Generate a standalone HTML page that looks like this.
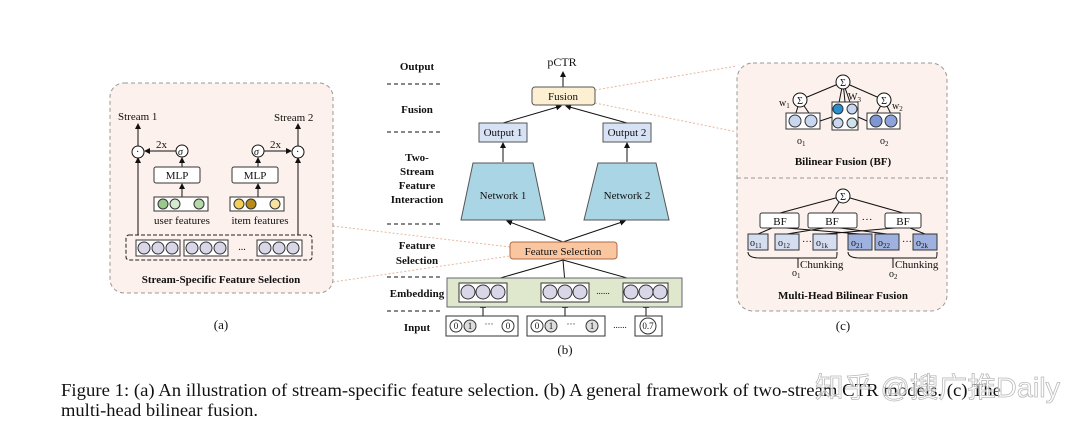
<!DOCTYPE html>
<html><head><meta charset="utf-8"><style>
body{margin:0;background:#fff;width:1088px;height:432px;overflow:hidden}
svg{display:block}
text{font-family:"Liberation Serif",serif;fill:#111}
.b{font-weight:bold}
</style></head><body>
<svg width="1088" height="432" viewBox="0 0 1088 432">
<defs><marker id="ar" markerWidth="6" markerHeight="6" refX="5" refY="3" orient="auto"><path d="M0,0 L6,3 L0,6z" fill="#111"/></marker></defs>
<g stroke="#e8b89c" stroke-width="1" stroke-dasharray="2,2" fill="none">
<line x1="333" y1="226" x2="510" y2="247"/>
<line x1="333" y1="282" x2="510" y2="256"/>
<line x1="595" y1="90" x2="737" y2="66"/>
<line x1="595" y1="103" x2="737" y2="132"/>
</g>
<rect x="110" y="83" width="223" height="210" rx="14" fill="#fcf1ec" stroke="#999" stroke-dasharray="4,3"/>
<text x="118" y="120" font-size="11">Stream 1</text>
<text x="274" y="121" font-size="11">Stream 2</text>
<g stroke="#111" fill="none" stroke-width="1">
<line x1="138" y1="235" x2="138" y2="158" marker-end="url(#ar)"/>
<line x1="138" y1="146" x2="138" y2="124" marker-end="url(#ar)"/>
<line x1="298" y1="235" x2="298" y2="158" marker-end="url(#ar)"/>
<line x1="298" y1="146" x2="298" y2="124" marker-end="url(#ar)"/>
<line x1="176" y1="151" x2="145" y2="151" marker-end="url(#ar)"/>
<line x1="264" y1="151" x2="291" y2="151" marker-end="url(#ar)"/>
<line x1="182" y1="167" x2="182" y2="158" marker-end="url(#ar)"/>
<line x1="258" y1="167" x2="258" y2="158" marker-end="url(#ar)"/>
<line x1="182" y1="197" x2="182" y2="184" marker-end="url(#ar)"/>
<line x1="258" y1="197" x2="258" y2="184" marker-end="url(#ar)"/>
</g>
<g stroke="#111" fill="#fff"><circle cx="138" cy="152" r="6"/><circle cx="298" cy="152" r="6"/><circle cx="182" cy="151" r="6"/><circle cx="258" cy="151" r="6"/></g>
<text x="136" y="155" font-size="10">·</text><text x="296" y="155" font-size="10">·</text>
<text x="178" y="155" font-size="10" font-style="italic">σ</text><text x="254" y="155" font-size="10" font-style="italic">σ</text>
<text x="156" y="148" font-size="11">2x</text><text x="270" y="148" font-size="11">2x</text>
<rect x="154" y="167" width="46" height="16" rx="2" fill="#fff" stroke="#333"/><text x="177" y="179" font-size="11" text-anchor="middle">MLP</text>
<rect x="232" y="167" width="46" height="16" rx="2" fill="#fff" stroke="#333"/><text x="255" y="179" font-size="11" text-anchor="middle">MLP</text>
<rect x="154" y="197" width="54" height="14" fill="#fff" stroke="#333"/>
<circle cx="163" cy="204" r="5" fill="#9cc78a" stroke="#333"/><circle cx="175" cy="204" r="5" fill="#d6ead0" stroke="#333"/><circle cx="199" cy="204" r="5" fill="#b5d9a8" stroke="#333"/>
<rect x="230" y="197" width="54" height="14" fill="#fff" stroke="#333"/>
<circle cx="239" cy="204" r="5" fill="#f1cf58" stroke="#333"/><circle cx="251" cy="204" r="5" fill="#b88a18" stroke="#333"/><circle cx="275" cy="204" r="5" fill="#f7e2a0" stroke="#333"/>
<text x="182" y="224" font-size="11" text-anchor="middle">user features</text>
<text x="260" y="224" font-size="11" text-anchor="middle">item features</text>
<rect x="126" y="235" width="186" height="25" rx="3" fill="none" stroke="#222" stroke-dasharray="4,2"/>
<g stroke="#333"><rect x="136" y="240" width="44" height="16" fill="#fff"/><rect x="184" y="240" width="44" height="16" fill="#fff"/><rect x="257" y="240" width="45" height="16" fill="#fff"/>
<g fill="#d9d6e8"><circle cx="144" cy="248" r="6"/><circle cx="158" cy="248" r="6"/><circle cx="172" cy="248" r="6"/><circle cx="192" cy="248" r="6"/><circle cx="206" cy="248" r="6"/><circle cx="220" cy="248" r="6"/><circle cx="265" cy="248" r="6"/><circle cx="279" cy="248" r="6"/><circle cx="293" cy="248" r="6"/></g></g>
<text x="242" y="250" font-size="10" text-anchor="middle">...</text>
<text x="221" y="283" font-size="11" class="b" text-anchor="middle">Stream-Specific Feature Selection</text>
<text x="221" y="329" font-size="13" text-anchor="middle">(a)</text>
<g font-size="11" class="b" text-anchor="middle">
<text x="417" y="70" class="b">Output</text><text x="417" y="113" class="b">Fusion</text>
<text x="417" y="161" class="b">Two-</text><text x="417" y="175" class="b">Stream</text><text x="417" y="189" class="b">Feature</text><text x="417" y="203" class="b">Interaction</text>
<text x="417" y="249" class="b">Feature</text><text x="417" y="264" class="b">Selection</text>
<text x="417" y="297" class="b">Embedding</text><text x="417" y="331" class="b">Input</text>
</g>
<g stroke="#111" stroke-dasharray="4,3"><line x1="387" y1="84" x2="441" y2="84"/><line x1="387" y1="132" x2="441" y2="132"/><line x1="387" y1="224" x2="441" y2="224"/><line x1="387" y1="277" x2="441" y2="277"/><line x1="387" y1="311" x2="441" y2="311"/></g>
<text x="562" y="66" font-size="12" text-anchor="middle">pCTR</text>
<g stroke="#111" fill="none">
<line x1="563" y1="87" x2="563" y2="72" marker-end="url(#ar)"/>
<line x1="503" y1="123" x2="561" y2="106" marker-end="url(#ar)"/>
<line x1="627" y1="123" x2="566" y2="106" marker-end="url(#ar)"/>
<line x1="503" y1="162" x2="503" y2="143" marker-end="url(#ar)"/>
<line x1="627" y1="162" x2="627" y2="143" marker-end="url(#ar)"/>
<line x1="563" y1="242" x2="507" y2="221" marker-end="url(#ar)"/>
<line x1="563" y1="242" x2="625" y2="221" marker-end="url(#ar)"/>
<line x1="483" y1="283" x2="563" y2="260"/><line x1="565" y1="283" x2="563" y2="260"/><line x1="645" y1="283" x2="563" y2="260"/>
<line x1="483" y1="316" x2="483" y2="303" marker-end="url(#ar)"/>
<line x1="565" y1="316" x2="565" y2="303" marker-end="url(#ar)"/>
<line x1="646" y1="316" x2="646" y2="303" marker-end="url(#ar)"/>
</g>
<rect x="532" y="87" width="63" height="18" rx="3" fill="#fdf0d2" stroke="#555"/><text x="563" y="100" font-size="11" text-anchor="middle">Fusion</text>
<rect x="479" y="123" width="48" height="19" fill="#d8e2f5" stroke="#555"/><text x="503" y="136" font-size="11" text-anchor="middle">Output 1</text>
<rect x="603" y="123" width="48" height="19" fill="#d8e2f5" stroke="#555"/><text x="627" y="136" font-size="11" text-anchor="middle">Output 2</text>
<polygon points="473,163 533,163 545,220 461,220" fill="#aad5e4" stroke="#555"/><text x="503" y="199" font-size="11" text-anchor="middle">Network 1</text>
<polygon points="598,163 656,163 669,220 584,220" fill="#aad5e4" stroke="#555"/><text x="627" y="199" font-size="11" text-anchor="middle">Network 2</text>
<rect x="510" y="242" width="107" height="17" rx="3" fill="#f9c6a0" stroke="#b06a48"/><text x="563" y="255" font-size="11" text-anchor="middle">Feature Selection</text>
<rect x="447" y="278" width="235" height="29" fill="#dfe8cc" stroke="#667"/>
<g stroke="#333"><rect x="459" y="283" width="48" height="19" fill="#fff"/><rect x="541" y="283" width="48" height="19" fill="#fff"/><rect x="623" y="283" width="45" height="19" fill="#fff"/>
<g fill="#d9d6e8"><circle cx="468" cy="292" r="7"/><circle cx="483" cy="292" r="7"/><circle cx="498" cy="292" r="7"/><circle cx="550" cy="292" r="7"/><circle cx="565" cy="292" r="7"/><circle cx="580" cy="292" r="7"/><circle cx="631" cy="292" r="7"/><circle cx="646" cy="292" r="7"/><circle cx="660" cy="292" r="7"/></g></g>
<text x="603" y="294" font-size="9" text-anchor="middle">......</text>
<g stroke="#333"><rect x="446" y="316" width="72" height="20" fill="#fff"/><rect x="527" y="316" width="78" height="20" fill="#fff"/><rect x="635" y="316" width="27" height="20" fill="#fff"/>
<circle cx="456" cy="326" r="6" fill="#fff"/><circle cx="470" cy="326" r="6" fill="#ddd"/><circle cx="508" cy="326" r="6" fill="#fff"/>
<circle cx="537" cy="326" r="6" fill="#fff"/><circle cx="551" cy="326" r="6" fill="#ddd"/><circle cx="592" cy="326" r="6" fill="#ddd"/><circle cx="648" cy="326" r="8" fill="#fff"/></g>
<g font-size="9" text-anchor="middle"><text x="456" y="329">0</text><text x="470" y="329">1</text><text x="489" y="327">···</text><text x="508" y="329">0</text><text x="537" y="329">0</text><text x="551" y="329">1</text><text x="571" y="327">···</text><text x="592" y="329">1</text><text x="620" y="328">......</text><text x="648" y="329">0.7</text></g>
<text x="565" y="354" font-size="13" text-anchor="middle">(b)</text>
<rect x="737" y="63" width="210" height="248" rx="16" fill="#fcf1ec" stroke="#999" stroke-dasharray="4,3"/>
<line x1="737" y1="178" x2="947" y2="178" stroke="#999" stroke-dasharray="4,3"/>
<g stroke="#111" fill="none">
<line x1="843" y1="82" x2="800" y2="100"/><line x1="843" y1="82" x2="845" y2="102"/><line x1="843" y1="82" x2="884" y2="100"/>
<line x1="800" y1="100" x2="795" y2="116"/><line x1="800" y1="100" x2="811" y2="116"/>
<line x1="884" y1="100" x2="875" y2="116"/><line x1="884" y1="100" x2="892" y2="116"/>
<line x1="843" y1="82" x2="838" y2="108"/><line x1="843" y1="82" x2="852" y2="108"/>
<line x1="820" y1="121" x2="832" y2="117"/><line x1="858" y1="117" x2="867" y2="121"/>
</g>
<g stroke="#111" fill="#fff"><circle cx="843" cy="82" r="7"/><circle cx="800" cy="100" r="7"/><circle cx="884" cy="100" r="7"/></g>
<g font-size="10" text-anchor="middle"><text x="843" y="86">Σ</text><text x="800" y="104">Σ</text><text x="884" y="104">Σ</text></g>
<rect x="786" y="113" width="34" height="16" fill="#fff" stroke="#333"/><circle cx="795" cy="121" r="6" fill="#c9d6f0" stroke="#333"/><circle cx="811" cy="121" r="6" fill="#c9d6f0" stroke="#333"/>
<rect x="867" y="113" width="33" height="16" fill="#fff" stroke="#333"/><circle cx="876" cy="121" r="6" fill="#7e97d4" stroke="#333"/><circle cx="891" cy="121" r="6" fill="#8da3db" stroke="#333"/>
<rect x="832" y="102" width="26" height="28" fill="#fff" stroke="#333"/>
<circle cx="838" cy="109" r="5" fill="#2a8fd0" stroke="#333"/><circle cx="852" cy="109" r="5" fill="#c9d6f0" stroke="#333"/><circle cx="838" cy="123" r="5" fill="#c9d6f0" stroke="#333"/><circle cx="852" cy="123" r="5" fill="#cfe2ea" stroke="#333"/>
<text x="779" y="106" font-size="10">w<tspan font-size="7" dy="2">1</tspan></text>
<text x="848" y="100" font-size="10">W<tspan font-size="7" dy="2">3</tspan></text>
<text x="892" y="109" font-size="10">w<tspan font-size="7" dy="2">2</tspan></text>
<text x="797" y="144" font-size="10">o<tspan font-size="7" dy="2">1</tspan></text>
<text x="880" y="144" font-size="10">o<tspan font-size="7" dy="2">2</tspan></text>
<text x="843" y="165" font-size="11" class="b" text-anchor="middle">Bilinear Fusion (BF)</text>
<g stroke="#111" fill="none">
<line x1="843" y1="196" x2="780" y2="213"/><line x1="843" y1="196" x2="832" y2="213"/><line x1="843" y1="196" x2="903" y2="213"/>
<line x1="772" y1="228" x2="758" y2="234"/><line x1="786" y1="228" x2="860" y2="234"/>
<line x1="824" y1="228" x2="787" y2="234"/><line x1="840" y1="228" x2="887" y2="234"/>
<line x1="895" y1="228" x2="825" y2="234"/><line x1="910" y1="228" x2="925" y2="234"/>
<path d="M748,252 Q748,258 760,258 L836,258 Q837,258 837,252"/><line x1="798" y1="258" x2="798" y2="268"/>
<path d="M848,252 Q848,258 860,258 L936,258 Q937,258 937,252"/><line x1="893" y1="258" x2="893" y2="268"/>
</g>
<circle cx="843" cy="196" r="7" fill="#fff" stroke="#111"/><text x="843" y="200" font-size="10" text-anchor="middle">Σ</text>
<g fill="#fff" stroke="#333"><rect x="760" y="213" width="39" height="15" rx="2"/><rect x="808" y="213" width="49" height="15" rx="2"/><rect x="885" y="213" width="36" height="15" rx="2"/></g>
<g font-size="11" text-anchor="middle"><text x="780" y="225">BF</text><text x="832" y="225">BF</text><text x="903" y="225">BF</text><text x="867" y="223">···</text></g>
<g stroke="#333"><rect x="748" y="234" width="20" height="16" fill="#d5ddf0"/><rect x="775" y="234" width="24" height="16" fill="#d5ddf0"/><rect x="813" y="234" width="24" height="16" fill="#d5ddf0"/>
<rect x="848" y="234" width="24" height="16" fill="#9fb1de"/><rect x="875" y="234" width="24" height="16" fill="#9fb1de"/><rect x="913" y="234" width="24" height="16" fill="#9fb1de"/></g>
<g font-size="10"><text x="750" y="246">o<tspan font-size="7" dy="2">11</tspan></text><text x="778" y="246">o<tspan font-size="7" dy="2">12</tspan></text><text x="802" y="245">···</text><text x="816" y="246">o<tspan font-size="7" dy="2">1k</tspan></text>
<text x="851" y="246">o<tspan font-size="7" dy="2">21</tspan></text><text x="878" y="246">o<tspan font-size="7" dy="2">22</tspan></text><text x="902" y="245">···</text><text x="916" y="246">o<tspan font-size="7" dy="2">2k</tspan></text>
<text x="800" y="268" font-size="11">Chunking</text><text x="895" y="268" font-size="11">Chunking</text>
<text x="792" y="276">o<tspan font-size="7" dy="2">1</tspan></text><text x="889" y="277">o<tspan font-size="7" dy="2">2</tspan></text></g>
<text x="843" y="299" font-size="11" class="b" text-anchor="middle">Multi-Head Bilinear Fusion</text>
<text x="843" y="330" font-size="13" text-anchor="middle">(c)</text>
<text x="61" y="396" font-size="18" textLength="940" lengthAdjust="spacingAndGlyphs">Figure 1: (a) An illustration of stream-specific feature selection. (b) A general framework of two-stream CTR models. (c) The</text>
<text x="61" y="416" font-size="18" textLength="197" lengthAdjust="spacingAndGlyphs">multi-head bilinear fusion.</text>
<text x="815" y="397" font-size="28" stroke="#bbb" stroke-width="0.8" textLength="245" lengthAdjust="spacingAndGlyphs" style="font-family:'Liberation Sans','Noto Sans CJK SC',sans-serif;fill:rgba(255,255,255,0.6)">知乎 @搜广推Daily</text>
</svg>
</body></html>
